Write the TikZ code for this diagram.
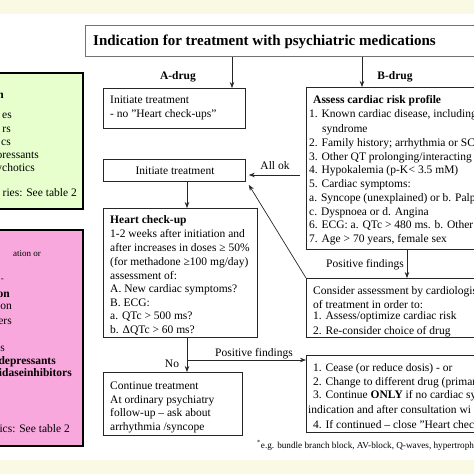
\documentclass[tikz,border=0pt]{standalone}
\usepackage{fontspec}
\setmainfont{Liberation Serif}
\usetikzlibrary{arrows.meta,calc}
\definecolor{band}{RGB}{250,250,228}
\definecolor{greenfill}{RGB}{230,255,204}
\definecolor{pinkfill}{RGB}{249,168,222}
\newcommand\bodyfont{\fontsize{11.5}{14}\selectfont}
\newcommand\smallfnt{\fontsize{9.2}{11}\selectfont}
\tikzset{
  box/.style={draw=black!85, line width=0.8pt, inner sep=0pt, anchor=north west},
  sidebox/.style={draw=black, line width=1.6pt, inner sep=0pt, anchor=north west},
  txt/.style={anchor=base west, inner sep=0pt, font=\bodyfont},
  rtxt/.style={anchor=base east, inner sep=0pt, font=\bodyfont},
  ctxt/.style={anchor=base, inner sep=0pt, font=\bodyfont},
  arr/.style={-{Stealth[length=6pt,width=4.5pt]}, line width=0.7pt, draw=black!85},
  ln/.style={line width=0.7pt, draw=black!85}
}
\begin{document}
\begin{tikzpicture}[x=1pt,y=-1pt]
\useasboundingbox (0,0) rectangle (474,474);
% bands
\fill[band] (0,0) rectangle (474,14);
\fill[band] (0,460) rectangle (474,474);

% side boxes
\node[sidebox, fill=greenfill, minimum width=87pt, minimum height=136pt] (green) at (-5,72) {};
\node[rtxt, font=\bodyfont\bfseries] (g1) at (4,98) {n};
\node[rtxt] (g2) at (12,118) {es};
\node[rtxt] (g3) at (11,132) {rs};
\node[rtxt] (g4) at (11,145) {cs};
\node[rtxt] (g5) at (39,158) {oressants};
\node[rtxt] (g6) at (35,171) {ychotics};
\node[rtxt] (g7) at (77,196) {ries: See table 2};

\node[sidebox, fill=pinkfill, minimum width=87pt, minimum height=216pt] (pink) at (-5,229) {};
\node[rtxt, font=\fontsize{9}{11}\selectfont] (p1) at (41,256) {ation or};
\node[rtxt, font=\fontsize{9}{11}\selectfont] (p2) at (4,281) {-};
\node[rtxt, font=\bodyfont\bfseries] (p3) at (10,297) {on};
\node[rtxt] (p4) at (12,309) {ion};
\node[rtxt] (p5) at (12,324) {ers};
\node[rtxt] (p6) at (5,351) {s};
\node[rtxt, font=\bodyfont\bfseries] (p7) at (56,364) {idepressants};
\node[rtxt, font=\bodyfont\bfseries] (p8) at (72,376) {xidaseinhibitors};
\node[rtxt] (p9) at (70,432) {rics: See table 2};

% title
\node[box, draw=black!55, line width=1.3pt, minimum width=410pt, minimum height=31pt] (title) at (85,25) {};
\node[txt, font=\fontsize{15}{18}\selectfont\bfseries] (titletxt) at (93,45) {Indication for treatment with psychiatric medications};

% A branch
\node[box, minimum width=142pt, minimum height=40pt] (abox) at (103,88) {};
\node[txt] (a1) at (110,103) {Initiate treatment};
\node[txt] (a2) at (110,117) {- no "Heart check-ups"};
\coordinate (ax) at (232,0);
\draw[arr] (title.south -| ax) -- (abox.north -| ax);
\node[ctxt, font=\bodyfont\bfseries] (alab) at (178,79) {A-drug};

% B branch
\node[box, minimum width=190pt, minimum height=162pt] (bbox) at (306,87) {};
\coordinate (bx) at (362,0);
\draw[arr] (title.south -| bx) -- (bbox.north -| bx);
\node[ctxt, font=\bodyfont\bfseries] (blab) at (395,79) {B-drug};
\node[txt, font=\bodyfont\bfseries] (b0) at (313,103) {Assess cardiac risk profile};
\node[txt] (b1) at (309,117) {1. Known cardiac disease, including};
\node[txt] (b1b) at (322,132) {syndrome};
\node[txt] (b2) at (309,146) {2. Family history; arrhythmia or SC};
\node[txt] (b3) at (309,160) {3. Other QT prolonging/interacting};
\node[txt] (b4) at (309,173) {4. Hypokalemia (p-K{\kern0.5pt}< 3.5 mM)};
\node[txt] (b5) at (309,187) {5. Cardiac symptoms:};
\node[txt] (b5a) at (309,201) {a. Syncope (unexplained) or b. Palp};
\node[txt] (b5c) at (309,215) {c. Dyspnoea or d. Angina};
\node[txt] (b6) at (309,228) {6. ECG: a. QTc > 480 ms. b. Other};
\node[txt] (b7) at (309,242) {7. Age > 70 years, female sex};

% Initiate treatment 2
\node[box, minimum width=142pt, minimum height=22pt] (init) at (103,159) {};
\node[ctxt] (inittxt) at (175,174) {Initiate treatment};

% All ok
\coordinate (allokS) at (300,175);
\draw[arr] (allokS) -- ([xshift=3pt]init.east |- allokS);
\node[ctxt] (allok) at (275,169) {All ok};

% Heart check-up
\node[box, minimum width=154pt, minimum height=129pt] (heart) at (103,208) {};
\coordinate (hx) at (187,0);
\draw[arr] (init.south -| hx) -- (heart.north -| hx);
\node[txt, font=\bodyfont\bfseries] (h0) at (110,223) {Heart check-up};
\node[txt] (h1) at (110,237) {1-2 weeks after initiation and};
\node[txt] (h2) at (110,251) {after increases in doses ≥ 50\%};
\node[txt] (h3) at (110,265) {(for methadone ≥100 mg/day)};
\node[txt] (h4) at (110,279) {assessment of:};
\node[txt] (h5) at (110,292) {A. New cardiac symptoms?};
\node[txt] (h6) at (110,306) {B. ECG:};
\node[txt] (h7) at (110,319) {a. QTc > 500 ms?};
\node[txt] (h8) at (110,333) {b. ΔQTc > 60 ms?};

% Consider box
\node[box, minimum width=190pt, minimum height=59pt] (cons) at (306,278) {};
\coordinate (px) at (407,0);
\draw[arr] (bbox.south -| px) -- (cons.north -| px);
\node[ctxt] (pf1) at (365,267) {Positive findings};
\node[txt] (c1) at (313,294) {Consider assessment by cardiologis};
\node[txt] (c2) at (313,308) {of treatment in order to:};
\node[txt] (c3) at (313,319) {1. Assess/optimize cardiac risk};
\node[txt] (c4) at (313,334) {2. Re-consider choice of drug};
\draw[arr] (cons.north west) -- ([xshift=3pt,yshift=-3pt]init.south east);

% Continue box
\node[box, minimum width=139pt, minimum height=63pt] (cont) at (103,372) {};
\draw[arr] (heart.south -| hx) -- (cont.north -| hx);
\node[ctxt] (no) at (172,367) {No};
\node[txt] (k1) at (110,389) {Continue treatment};
\node[txt] (k2) at (110,403) {At ordinary psychiatry};
\node[txt] (k3) at (110,416) {follow-up – ask about};
\node[txt] (k4) at (110,430) {arrhythmia /syncope};

% Cease box
\node[box, minimum width=190pt, minimum height=77pt] (cease) at (306,355) {};
\coordinate (brk) at (187,360);
\draw[arr] (brk) -- (cease.west |- brk);
\node[ctxt] (pf2) at (254,356) {Positive findings};
\node[txt] (e1) at (313,371) {1. Cease (or reduce dosis) - or};
\node[txt] (e2) at (313,385) {2. Change to different drug (primar};
\node[txt] (e3) at (313,398) {3. Continue \textbf{ONLY} if no cardiac sy};
\node[txt] (e4) at (308,413) {indication and after consultation wi};
\node[txt] (e5) at (313,428) {4. If continued – close "Heart check};

% footnote
\node[txt, font=\smallfnt] (foot) at (257,448) {\textsuperscript{*}e.g. bundle branch block, AV-block, Q-waves, hypertroph};
\end{tikzpicture}
\end{document}
